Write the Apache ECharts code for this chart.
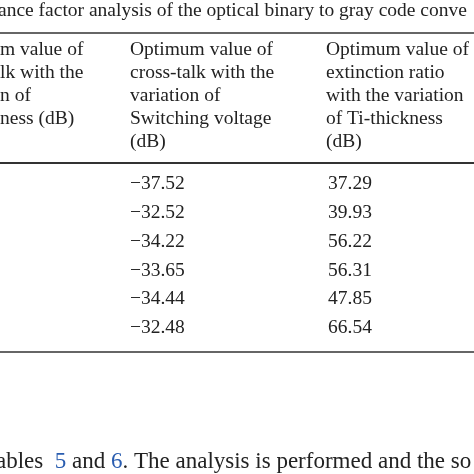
<!DOCTYPE html><html><head><meta charset="utf-8"><script src="https://cdn.jsdelivr.net/npm/echarts@6/dist/echarts.min.js"></script>
<style>html,body{margin:0;background:#fff}#c{width:474px;height:474px}</style></head><body><div id="c"></div><script>
const titleText = "ance factor analysis of the optical binary to gray code conve";
const header1 = ["m value of","lk with the","n of","ness (dB)"];
const header2 = ["Optimum value of","cross-talk with the","variation of","Switching voltage","(dB)"];
const header3 = ["Optimum value of","extinction ratio","with the variation","of Ti-thickness","(dB)"];
const crossTalk = ["\u221237.52","\u221232.52","\u221234.22","\u221233.65","\u221234.44","\u221232.48"];
const extinction = ["37.29","39.93","56.22","56.31","47.85","66.54"];
const font = '19.5px "Liberation Serif", serif';
const els = [];
const T = (x,y,s,fill) => els.push({type:'text',left:x,top:y,style:{text:s,font:font,fill:fill||'#222'}});
const L = (y,w) => els.push({type:'line',shape:{x1:0,y1:y,x2:474,y2:y},style:{stroke:'#333',lineWidth:w||1}});
els.push({type:'text',left:-2,top:1,style:{text:titleText,font:'19.5px "Liberation Serif", serif',fill:'#222'}});
L(33,1.5);
header1.forEach((s,i)=>T(0,40+i*23,s));
header2.forEach((s,i)=>T(130,40+i*23,s));
header3.forEach((s,i)=>T(326,40+i*23,s));
L(163,2);
crossTalk.forEach((s,i)=>T(130,174+i*28.8,s));
extinction.forEach((s,i)=>T(328,174+i*28.8,s));
L(352,1.5);
els.push({type:'text',left:-4,top:450,style:{rich:{a:{font:'23px "Liberation Serif", serif',fill:'#222'},b:{font:'23px "Liberation Serif", serif',fill:'#2a5db0'}},text:'{a|ables  }{b|5}{a| and }{b|6}{a|. The analysis is performed and the so}'}});
const chart = echarts.init(document.getElementById('c'));
chart.setOption({graphic:{elements:els}});
</script></body></html>
